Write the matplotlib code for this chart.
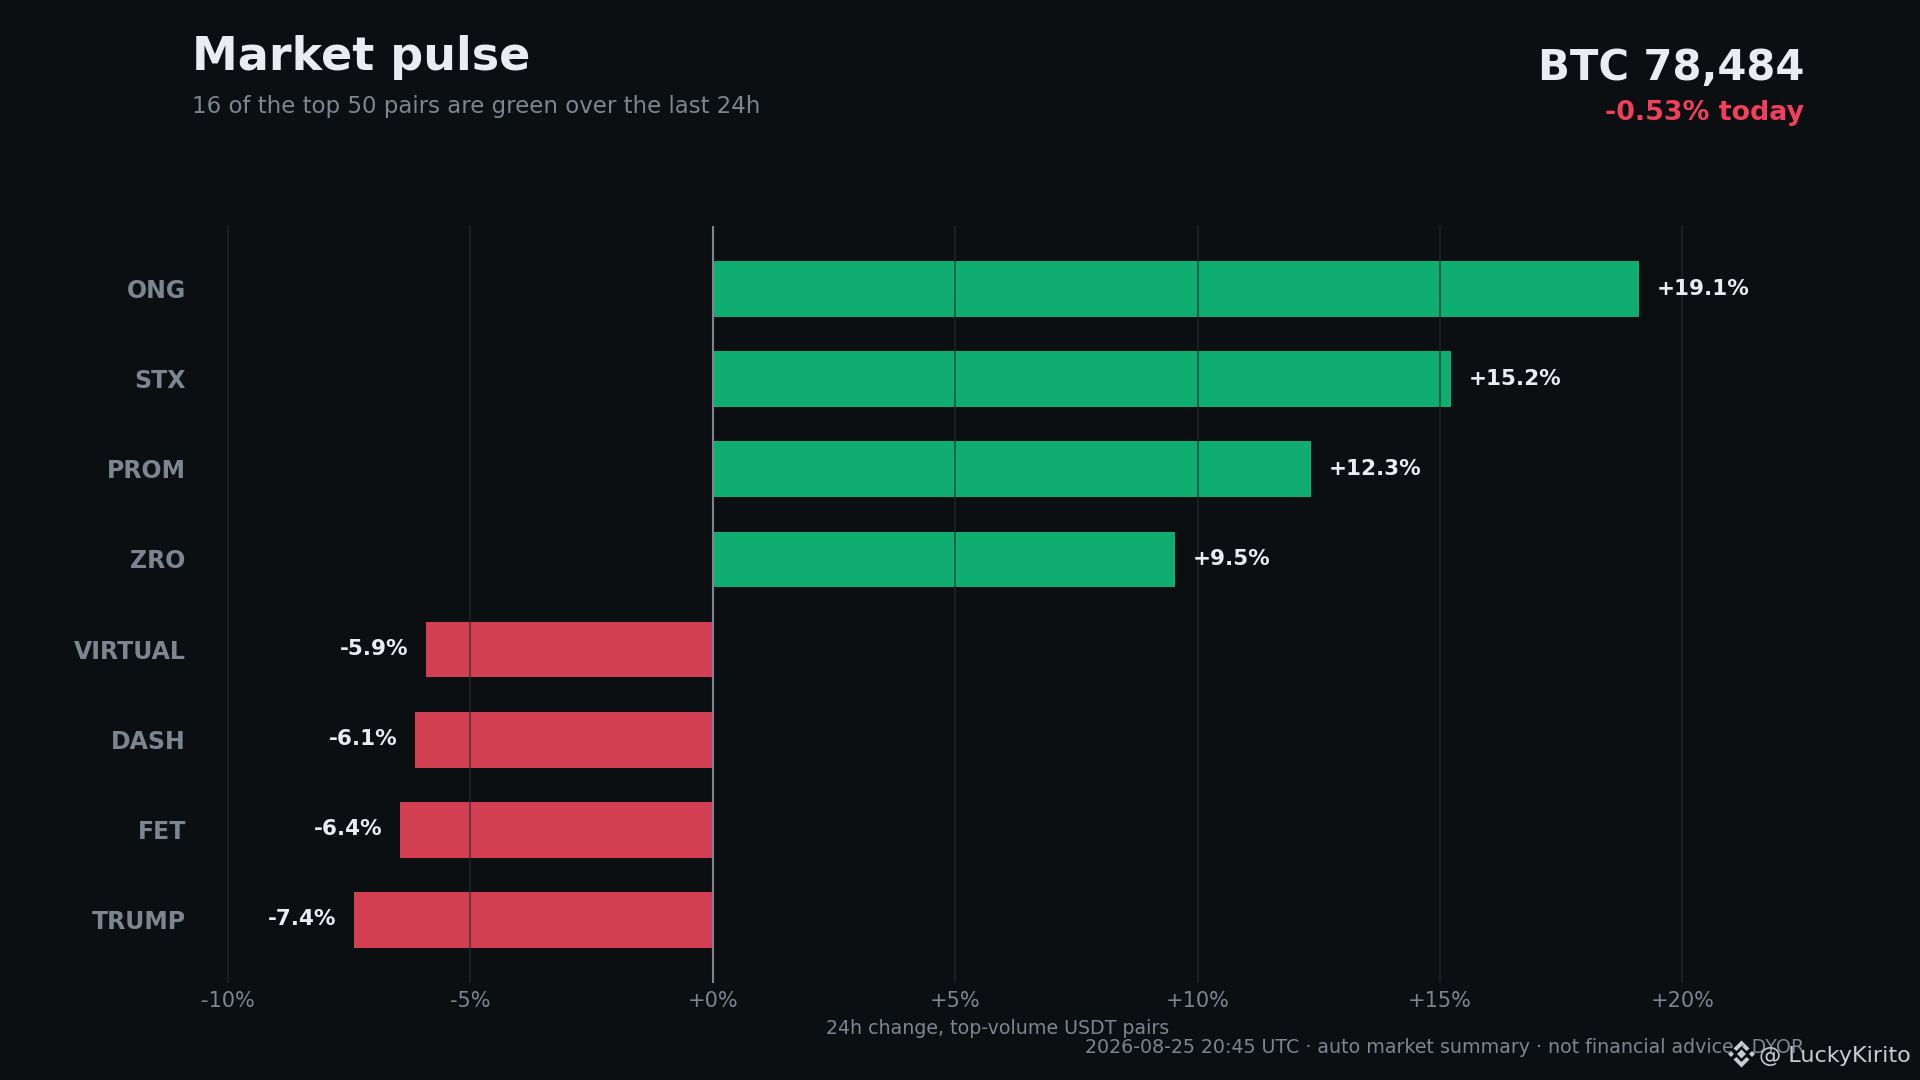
import matplotlib
matplotlib.use('Agg')
import matplotlib.pyplot as plt
from matplotlib.patches import Polygon
from matplotlib.transforms import IdentityTransform, ScaledTranslation

symbols = ['ONG', 'STX', 'PROM', 'ZRO', 'VIRTUAL', 'DASH', 'FET', 'TRUMP']
changes = [19.1, 15.22, 12.33, 9.53, -5.91, -6.14, -6.45, -7.4]
labels = ['+19.1%', '+15.2%', '+12.3%', '+9.5%', '-5.9%', '-6.1%', '-6.4%', '-7.4%']
x_ticks = [-10, -5, 0, 5, 10, 15, 20]

BG = '#0b0f12'
GREEN = '#0fae70'
RED = '#d23e52'
MUTED = '#7d8590'
LIGHT = '#e9ecf1'

W, H = 1920, 1080
fig = plt.figure(figsize=(19.2, 10.8), dpi=100, facecolor=BG)
ax = fig.add_axes([192 / W, 1 - 983 / H, (1804 - 192) / W, 757 / H], facecolor=BG)

colors = [GREEN if c >= 0 else RED for c in changes]
ax.barh(range(len(symbols)), changes, height=0.62, color=colors, zorder=2)
ax.set_xlim(-10.745, 22.51)
ax.set_ylim(7.7, -0.7)

for x in x_ticks:
    if x == 0:
        ax.axvline(x, color=MUTED, lw=1.5, zorder=4)
    else:
        ax.axvline(x, color='#262b31', alpha=0.75, lw=1.1, zorder=3)

for i, c in enumerate(changes):
    ax.annotate(labels[i], (c, i), xytext=(13.2 if c >= 0 else -13, 0.4), textcoords='offset points',
                ha='left' if c >= 0 else 'right', va='center', color=LIGHT, fontsize=15.5,
                fontweight='bold')

ax.set_yticks(range(len(symbols)))
ax.set_yticklabels(symbols, fontsize=17, fontweight='bold', color=MUTED)
ax.set_xticks(x_ticks)
ax.set_xticklabels([f'{x:+d}%' for x in x_ticks], fontsize=15, color=MUTED)
ax.tick_params(axis='both', length=0)
ax.tick_params(axis='x', pad=5.5)
ax.tick_params(axis='y', pad=4.5)
for t in ax.get_yticklabels():
    t.set_transform(t.get_transform() + ScaledTranslation(0, 0.5 / 100, fig.dpi_scale_trans))
for s in ax.spines.values():
    s.set_visible(False)

fig.text(192 / W, 1 - 57 / H, 'Market pulse', fontsize=33.1, fontweight='bold', color=LIGHT, va='center')
fig.text(192 / W, 1 - 106 / H, '16 of the top 50 pairs are green over the last 24h', fontsize=16.5, color=MUTED, va='center')
fig.text(1804 / W, 1 - 68 / H, 'BTC 78,484', fontsize=30.1, fontweight='bold', color=LIGHT, ha='right', va='center')
fig.text(1804 / W, 1 - 113 / H, '-0.53% today', fontsize=19.4, fontweight='bold', color='#f0405c', ha='right', va='center')
fig.text(998 / W, 1 - 1028 / H, '24h change, top-volume USDT pairs', fontsize=13.7, color=MUTED, ha='center', va='center')
fig.text(1804 / W, 1 - 1047.5 / H, '2026-08-25 20:45 UTC · auto market summary · not financial advice · DYOR',
         fontsize=13.65, color=MUTED, ha='right', va='center')

# watermark
fig.text(1911 / W, 1 - 1056 / H, '@ LuckyKirito', fontsize=16, color='#c9cdd2', ha='right', va='center')
cx, cy = 1741.5, H - 1054
logo = [
    [(0, 4.5), (4.5, 0), (0, -4.5), (-4.5, 0)],
    [(-10.5, 3), (-7.5, 0), (-10.5, -3), (-13.5, 0)],
    [(10.5, 3), (7.5, 0), (10.5, -3), (13.5, 0)],
    [(0, 13.5), (8, 5.5), (5, 3), (0, 8), (-5, 3), (-8, 5.5)],
    [(0, -13.5), (8, -5.5), (5, -3), (0, -8), (-5, -3), (-8, -5.5)],
]
for pts in logo:
    fig.add_artist(Polygon([(cx + a, cy + b) for a, b in pts], closed=True, color='#c9cdd2', lw=0,
                           transform=IdentityTransform()))

fig.savefig('out.png', dpi=100, facecolor=BG)
